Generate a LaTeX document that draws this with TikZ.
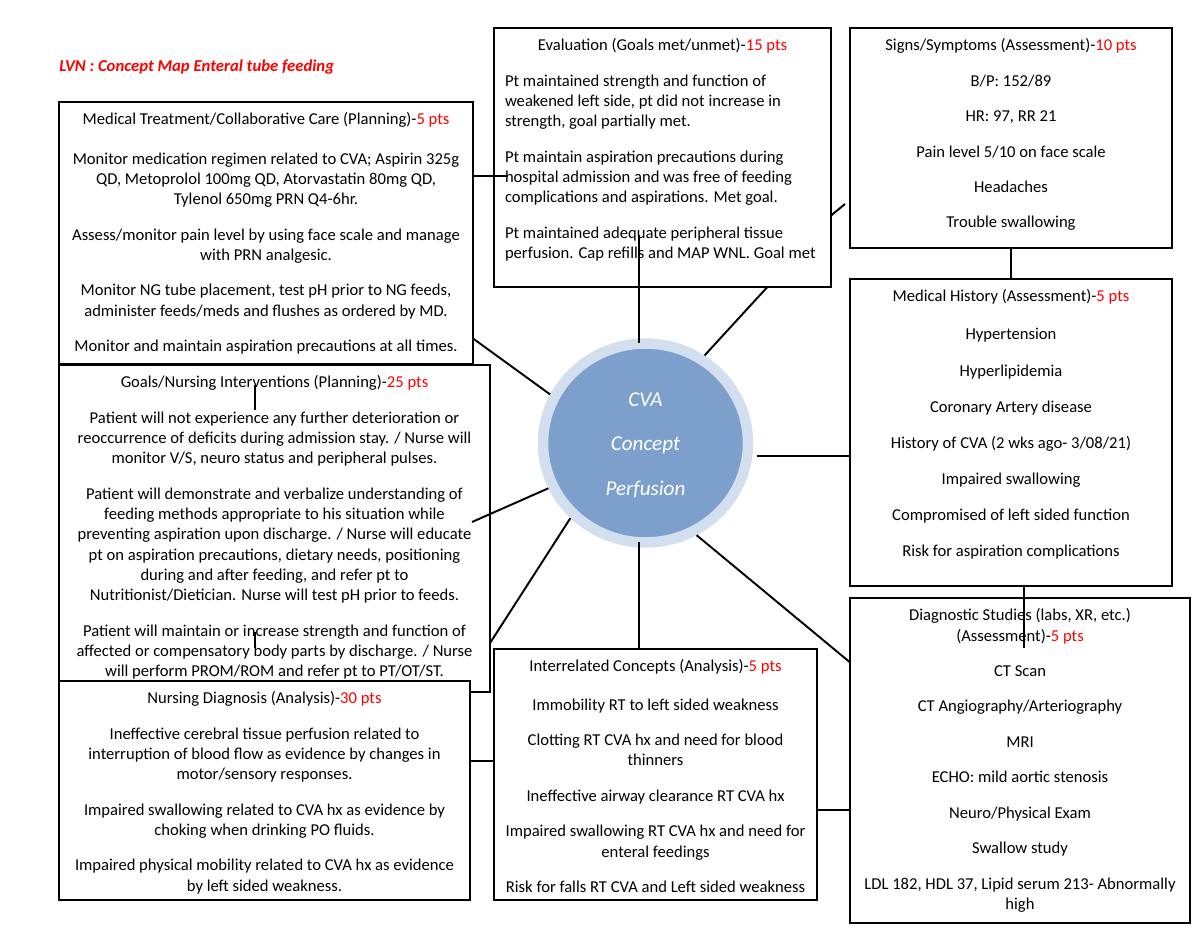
\documentclass[tikz,border=0pt]{standalone}
\usepackage{fontspec}
\setmainfont{Carlito}
\usetikzlibrary{shapes.geometric}
\newlength{\px}
\setlength{\px}{0.02cm}
\definecolor{ringblue}{HTML}{D3DFEE}
\definecolor{hubblue}{HTML}{7C9FCC}
\newcommand{\cardtext}[3]{\parbox[t][#2][t]{#1}{\centering\fontsize{9.45}{11.56}\selectfont\parskip=8.6pt\vspace*{-4.5\px}#3}}
\newcommand{\pts}[1]{{\color{red}#1 pts}}
\newcommand{\leftbody}{\par\leftskip=11\px\rightskip=0pt\parfillskip=0pt plus 1fil\relax}
\tikzset{
    card/.style={draw, fill=white, line width=1.1pt, inner sep=0pt, outer sep=0pt, anchor=north west},
    link/.style={line width=1.1pt},
    hubnode/.style={ellipse, draw=ringblue, fill=hubblue, line width=10.5\px, inner sep=0pt,
        minimum width=205\px, minimum height=199\px, align=center, text=white,
        font=\fontsize{12}{25.2}\selectfont\itshape}
}
\begin{document}
\begin{tikzpicture}[x=\px, y=-\px]
    \useasboundingbox (0,0) rectangle (1200,927);
    \node(heading) at (59,67.5)[anchor=west, text=red, font=\fontsize{9.5}{11}\selectfont\bfseries\itshape, inner sep=0pt]{LVN : Concept Map Enteral tube feeding};
    % left column, each box overlaps the one before
    \node[card](medical) at (59,102){\cardtext{414\px}{262\px}{Medical Treatment/Collaborative Care (Planning)-\pts{5}

        \vspace{4\px}
        Monitor medication regimen related to CVA; Aspirin 325g\\
        QD, Metoprolol 100mg QD, Atorvastatin 80mg QD,\\
        Tylenol 650mg PRN Q4-6hr.

        Assess/monitor pain level by using face scale and manage\\
        with PRN analgesic.

        Monitor NG tube placement, test pH prior to NG feeds,\\
        administer feeds/meds and flushes as ordered by MD.

        Monitor and maintain aspiration precautions at all times.}};
    \node[card](goals) at (59,365){\cardtext{431\px}{327\px}{Goals/Nursing Interventions (Planning)-\pts{25}

        Patient will not experience any further deterioration or\\
        reoccurrence of deficits during admission stay. / Nurse will\\
        monitor V/S, neuro status and peripheral pulses.

        Patient will demonstrate and verbalize understanding of\\
        feeding methods appropriate to his situation while\\
        preventing aspiration upon discharge. / Nurse will educate\\
        pt on aspiration precautions, dietary needs, positioning\\
        during and after feeding, and refer pt to\\
        Nutritionist/Dietician. Nurse will test pH prior to feeds.

        Patient will maintain or increase strength and function of\\
        affected or compensatory body parts by discharge. / Nurse\\
        will perform PROM/ROM and refer pt to PT/OT/ST.}};
    \node[card](nursing) at (59,681){\cardtext{411\px}{219\px}{Nursing Diagnosis (Analysis)-\pts{30}

        Ineffective cerebral tissue perfusion related to\\
        interruption of blood flow as evidence by changes in\\
        motor/sensory responses.

        Impaired swallowing related to CVA hx as evidence by\\
        choking when drinking PO fluids.

        Impaired physical mobility related to CVA hx as evidence\\
        by left sided weakness.}};
    % middle column
    \node[card](evaluation) at (494,28){\cardtext{337\px}{259\px}{Evaluation (Goals met/unmet)-\pts{15}
        \leftbody

        Pt maintained strength and function of\\
        weakened left side, pt did not increase in\\
        strength, goal partially met.

        Pt maintain aspiration precautions during\\
        hospital admission and was free of feeding\\
        complications and aspirations. Met goal.

        Pt maintained adequate peripheral tissue\\
        perfusion. Cap refills and MAP WNL. Goal met}};
    \node[card](interrelated) at (494,649){\cardtext{323\px}{251\px}{Interrelated Concepts (Analysis)-\pts{5}

        \vspace{3\px}
        Immobility RT to left sided weakness

        Clotting RT CVA hx and need for blood\\
        thinners

        Ineffective airway clearance RT CVA hx

        Impaired swallowing RT CVA hx and need for\\
        enteral feedings

        Risk for falls RT CVA and Left sided weakness}};
    % right column
    \node[card](signs) at (850,28){\cardtext{322\px}{220\px}{Signs/Symptoms (Assessment)-\pts{10}

        B/P: 152/89

        HR: 97, RR 21

        Pain level 5/10 on face scale

        Headaches

        Trouble swallowing}};
    \node[card](history) at (850,279){\cardtext{322\px}{307\px}{Medical History (Assessment)-\pts{5}

        \vspace{2\px}\parskip=9pt
        Hypertension

        Hyperlipidemia

        Coronary Artery disease

        History of CVA (2 wks ago- 3/08/21)

        Impaired swallowing

        Compromised of left sided function

        Risk for aspiration complications}};
    \node[card](diagnostic) at (850,598){\cardtext{340\px}{325\px}{Diagnostic Studies (labs, XR, etc.)\\
        (Assessment)-\pts{5}

        CT Scan

        CT Angiography/Arteriography

        MRI

        ECHO: mild aortic stenosis

        Neuro/Physical Exam

        Swallow study

        LDL 182, HDL 37, Lipid serum 213- Abnormally\\
        high}};
    % centre
    \node[hubnode](hub) at (645.5,443){\rule{0pt}{10.5pt}CVA\\Concept\\Perfusion};
    % free ends of the connectors
    \coordinate(hubtop) at (639,343);
    \coordinate(hubbottom) at (639,542);
    \coordinate(hubright) at (757,456);
    \coordinate(evalinner) at (639,235);
    \coordinate(medicalstub) at (508,176);
    \coordinate(signsstub) at (845,204);
    \coordinate(goalsinner) at (472,522);
    \coordinate(diagstub) at (1024,648);
    \coordinate(nursinglink) at (480,761);
    \coordinate(interlink) at (830,810);
    \coordinate(goalsupA) at (255,385);
    \coordinate(goalsupB) at (255,410);
    \coordinate(goalslowA) at (255,632);
    \coordinate(goalslowB) at (255,648);
    % connectors
    \draw[link] (hub.153) -- (medical.-27.8);
    \draw[link] (hub.205) -- (goalsinner);
    \draw[link] (hub.225) -- (goals.-28.4);
    \draw[link] (hubbottom) -- (hubbottom |- interrelated.north);
    \draw[link] (hub.-61) -- (diagnostic.150.2);
    \draw[link] (hubright) -- (hubright -| history.west);
    \draw[link] (hub.56) -- (evaluation.-51);
    \draw[link] (hubtop) -- (evalinner);
    \draw[link] (medicalstub -| medical.east) -- (medicalstub);
    \draw[link] (evaluation.-19.1) -- (signsstub);
    \draw[link] (signs.south) -- (history.north);
    \draw[link] (diagstub |- history.south) -- (diagstub);
    \draw[link] (nursinglink -| nursing.east) -- (nursinglink -| interrelated.west);
    \draw[link] (interlink -| interrelated.east) -- (interlink -| diagnostic.west);
    \draw[link] (goalsupA) -- (goalsupB);
    \draw[link] (goalslowA) -- (goalslowB);
\end{tikzpicture}
\end{document}
